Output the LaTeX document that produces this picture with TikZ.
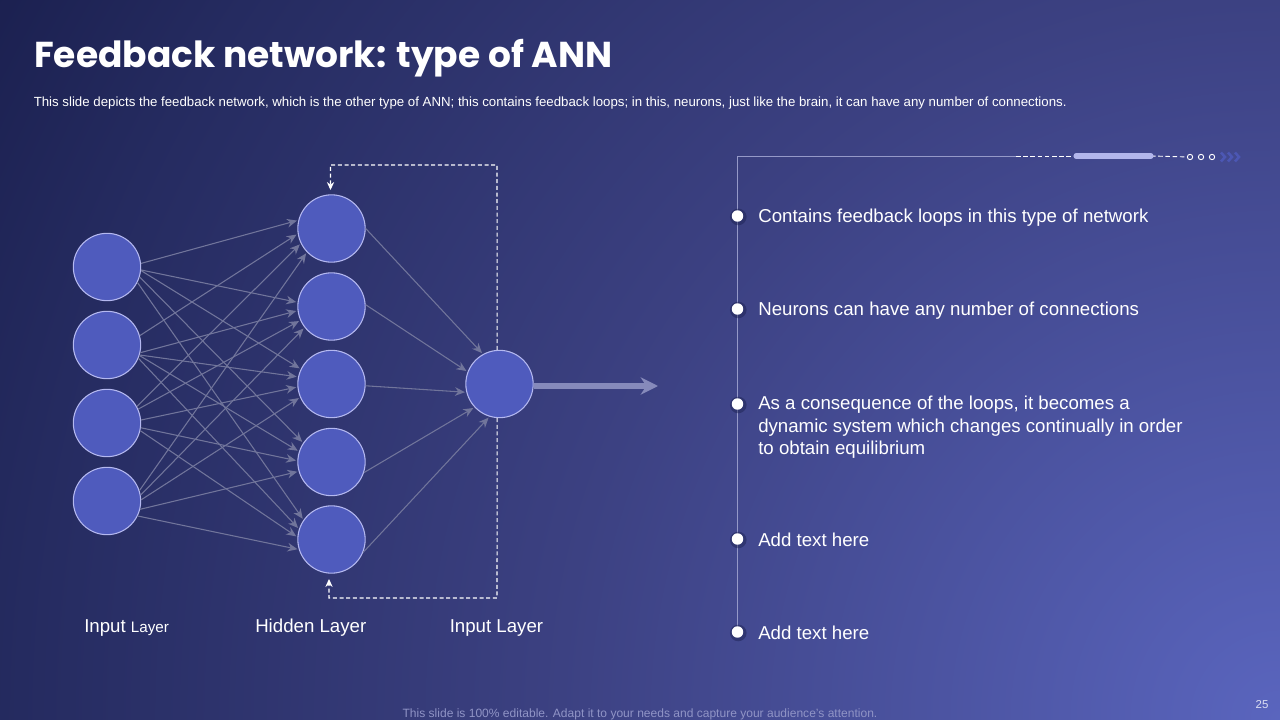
\documentclass[tikz,border=0pt]{standalone}
\usepackage{fontspec}
\setmainfont{Liberation Sans}
\newfontfamily\headfont{Poppins}
\usetikzlibrary{arrows.meta,shadows}
\definecolor{bgcore}{HTML}{5A65BE}
\definecolor{bgmid}{HTML}{3C4182}
\definecolor{bgfar}{HTML}{252B60}
\definecolor{bgedge}{HTML}{1A1F4E}
\definecolor{neuronfill}{HTML}{4F5BBD}
\definecolor{neuronline}{HTML}{B4B8F0}
\definecolor{edgeline}{HTML}{71759B}
\definecolor{fatline}{HTML}{868ABB}
\definecolor{railline}{HTML}{9599C8}
\definecolor{footline}{HTML}{9094C6}
\pgfdeclareradialshading{bgglow}{\pgfpoint{0bp}{0bp}}{color(0bp)=(bgcore); color(12bp)=(bgmid); color(21bp)=(bgfar); color(25bp)=(bgedge); color(50bp)=(bgedge)}
\tikzset{
  neuron/.style={circle,draw=neuronline,fill=neuronfill,line width=.8pt,inner sep=0pt,minimum size=50.5pt},
  edge/.style={draw=edgeline,line width=.8pt,shorten >=1pt,-{Stealth[length=7.5pt,width=6.5pt]}},
  feedback/.style={draw=white,line width=.8pt,dash pattern=on 3pt off 2pt,-{Stealth[length=6pt,width=5.5pt]}},
  layername/.style={text=white,font=\fontsize{14}{17}\selectfont},
  bullet/.style={circle,fill=white,inner sep=0pt,minimum size=8.6pt,drop shadow={shadow xshift=.4pt,shadow yshift=-.5pt,opacity=.45,fill=bgedge,shadow scale=1.45}},
  pointtext/.style={text=white,align=left,inner sep=0pt,font=\fontsize{14}{16.9}\selectfont},
  ringdot/.style={circle,draw=white,line width=.7pt,inner sep=0pt,minimum size=4pt}
}
\begin{document}
\begin{tikzpicture}[x=.75pt,y=-.75pt,line cap=butt]
  \useasboundingbox (0,0) rectangle (1280,720);
  \begin{scope}
    \clip (0,0) rectangle (1280,720);
    \shade[shading=bgglow] (-220,-780) rectangle (2780,2220);
  \end{scope}

  % heading
  \node[anchor=base west,inner sep=0pt,text=white,font=\headfont\bfseries\fontsize{27}{30}\selectfont] (title) at (34,68) {Feedback network: type of ANN};
  \node[anchor=base west,inner sep=0pt,text=white,font=\fontsize{9.94}{11}\selectfont] (subtitle) at (33.5,106.5) {This slide depicts the feedback network, which is the other type of ANN; this contains feedback loops; in this, neurons, just like the brain, it can have any number of connections.};

  % neurons
  \foreach \n/\y in {1/267,2/345,3/423,4/501}
    \node[neuron] (in\n) at (107,\y) {};
  \foreach \n/\y in {1/228.5,2/306.5,3/384,4/462,5/539.5}
    \node[neuron] (hid\n) at (331.5,\y) {};
  \node[neuron] (out) at (499.5,384) {};

  % input to hidden: from/to/angle at start/angle at end
  \foreach \a/\b/\s/\e in {1/1/6/166,1/2/-5/173,1/3/-6/154,1/4/-17/146,1/5/-27/145,
                           2/1/16/189,2/2/-13/187,2/3/-17/168,2/4/-18/162,2/5/-23/162,
                           3/1/29/206,3/2/24/204,3/3/5/185,3/4/-8/178,3/5/-13/176,
                           4/1/18/224,4/2/10/218,4/3/2/203,4/4/-14/196,4/5/-26/197}
    \draw[edge] (in\a.\s) -- (hid\b.\e);
  \foreach \b/\s/\e in {1/0/119,2/3/159,3/-3/194,4/-18/223,5/-22/253}
    \draw[edge] (hid\b.\s) -- (out.\e);

  % loops
  \coordinate (looptr) at (497,165);
  \coordinate (looptl) at (330.5,165);
  \coordinate (looptip) at (330.5,190);
  \coordinate (loopbr) at (497,598);
  \coordinate (loopbl) at (329,598);
  \coordinate (loopbip) at (329,579);
  \draw[feedback] (out.94) -- (looptr) -- (looptl) -- (looptip);
  \draw[feedback] (out.-94) -- (loopbr) -- (loopbl) -- (loopbip);

  \coordinate (outtip) at (658,386);
  \draw[draw=fatline,line width=4.6pt,-{Stealth[length=13pt,width=13pt]}] (out.east |- outtip) -- (outtip);

  \node[layername,anchor=base west,inner sep=0pt] (name1) at (84,632) {Input {\fontsize{11.4}{14}\selectfont Layer}};
  \node[layername,anchor=base west,inner sep=0pt] (name2) at (255,632) {Hidden Layer};
  \node[layername,anchor=base west,inner sep=0pt] (name3) at (449.5,632) {Input Layer};

  % right panel
  \coordinate (railtop) at (737.5,156);
  \coordinate (railend) at (737.5,632);
  \coordinate (dashstart) at (1016,156);
  \coordinate (barstart) at (1076,156);
  \coordinate (barend) at (1151,156);
  \node[ringdot] (ring1) at (1190,157) {};
  \node[ringdot] (ring2) at (1201,157) {};
  \node[ringdot] (ring3) at (1212,157) {};
  \draw[railline,line width=.6pt] (railend) -- (railtop) -- (dashstart);
  \draw[white,line width=.7pt,dash pattern=on 3.4pt off 2pt] (dashstart) -- (barstart);
  \draw[white,line width=.7pt,dash pattern=on 3.4pt off 2pt] (barend) -- (ring1);
  \draw[color={rgb,255:red,178;green,182;blue,236},line width=3.8pt,line cap=round] (barstart) -- (barend);
  \foreach \x in {1221,1228,1235}
    \draw[neuronfill!85!bgmid,line width=1.9pt] (\x,152.5) -- (\x+4,157) -- (\x,161.5);

  \foreach \n/\y in {1/216,2/309,3/404,4/539,5/632}
    \node[bullet] (dot\n) at (737.5,\y) {};
  \node[pointtext,anchor=west] (point1) at (758,218) {Contains feedback loops in this type of network};
  \node[pointtext,anchor=west] (point2) at (758,311) {Neurons can have any number of connections};
  \node[pointtext,anchor=north west] (point3) at (758,396) {As a consequence of the loops, it becomes a\\dynamic system which changes continually in order\\to obtain equilibrium};
  \node[pointtext,anchor=west] (point4) at (758,540) {Add text here};
  \node[pointtext,anchor=west] (point5) at (758,633) {Add text here};

  % footer
  \node[anchor=base,inner sep=0pt,text=footline,font=\fontsize{9.03}{10}\selectfont] (footer) at (640,717) {This slide is 100\% editable. Adapt it to your needs and capture your audience's attention.};
  \node[anchor=base,inner sep=0pt,text=white!80!neuronfill,font=\fontsize{8.6}{10}\selectfont] (pagenum) at (1262,708) {25};
\end{tikzpicture}
\end{document}
